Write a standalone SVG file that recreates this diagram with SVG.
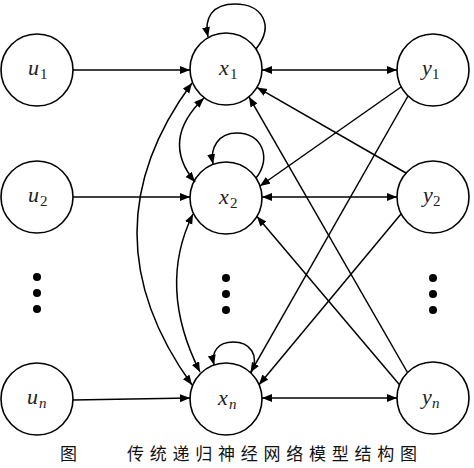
<svg xmlns="http://www.w3.org/2000/svg" width="474" height="468" viewBox="0 0 474 468">
<style>
.node circle{fill:#fff;stroke:#000;stroke-width:1.6}
.v{font-family:"Liberation Serif",serif;font-style:italic;font-size:22px;fill:#222}
.s{font-family:"Liberation Serif",serif;font-size:15px;fill:#222}
.si{font-family:"Liberation Serif",serif;font-style:italic;font-size:15px;fill:#222}
.c path{fill:none;stroke:#000;stroke-width:1.5}
.dot{fill:#000}
.cap{font-family:"Noto Sans CJK SC","Noto Sans",sans-serif;font-size:17px;fill:#111}
</style>
<defs>
<marker id="ah" markerUnits="userSpaceOnUse" markerWidth="11" markerHeight="9" refX="10" refY="4" orient="auto-start-reverse" viewBox="0 0 11 9">
<path d="M0,0 L10,4 L0,8 z" fill="#000"/>
</marker>
</defs>
<rect width="474" height="468" fill="#fff"/>
<g id="u1" class="node"><circle cx="37" cy="70" r="36"/><text class="v" x="28" y="75">u</text><text class="s" x="40" y="79">1</text></g>
<g id="u2" class="node"><circle cx="37" cy="197" r="36"/><text class="v" x="28" y="202">u</text><text class="s" x="40" y="206">2</text></g>
<g id="un" class="node"><circle cx="37" cy="399" r="36"/><text class="v" x="27" y="404">u</text><text class="si" x="39" y="408">n</text></g>
<g id="x1" class="node"><circle cx="226" cy="69" r="36"/><text class="v" x="219" y="75">x</text><text class="s" x="230" y="79">1</text></g>
<g id="x2" class="node"><circle cx="226" cy="198" r="36"/><text class="v" x="219" y="204">x</text><text class="s" x="230" y="208">2</text></g>
<g id="xn" class="node"><circle cx="226" cy="399" r="36"/><text class="v" x="218" y="405">x</text><text class="si" x="229" y="409">n</text></g>
<g id="y1" class="node"><circle cx="433" cy="70" r="36"/><text class="v" x="422" y="75">y</text><text class="s" x="432" y="79">1</text></g>
<g id="y2" class="node"><circle cx="433" cy="197" r="36"/><text class="v" x="423" y="202">y</text><text class="s" x="433" y="206">2</text></g>
<g id="yn" class="node"><circle cx="433" cy="398" r="36"/><text class="v" x="422" y="404">y</text><text class="si" x="432" y="408">n</text></g>
<g id="dots">
<circle class="dot" cx="37" cy="277" r="4"/><circle class="dot" cx="37" cy="293" r="4"/><circle class="dot" cx="37" cy="309" r="4"/>
<circle class="dot" cx="226" cy="278" r="4"/><circle class="dot" cx="226" cy="294" r="4"/><circle class="dot" cx="226" cy="310" r="4"/>
<circle class="dot" cx="433" cy="278" r="4"/><circle class="dot" cx="433" cy="294" r="4"/><circle class="dot" cx="433" cy="310" r="4"/>
</g>
<g id="connectors" class="c">
<path d="M73 70 L190 70" marker-end="url(#ah)"/>
<path d="M73 197 L190 197" marker-end="url(#ah)"/>
<path d="M73 400 L190 398" marker-end="url(#ah)"/>
<path d="M262 70 L397 70" marker-start="url(#ah)" marker-end="url(#ah)"/>
<path d="M262 197 L397 197" marker-start="url(#ah)" marker-end="url(#ah)"/>
<path d="M262 398 L397 398" marker-start="url(#ah)" marker-end="url(#ah)"/>
<path d="M204 98 Q160 140 195 182" marker-start="url(#ah)" marker-end="url(#ah)"/>
<path d="M193 214 Q157 287 200 372" marker-start="url(#ah)" marker-end="url(#ah)"/>
<path d="M192 83 Q82 232 192 385" marker-start="url(#ah)" marker-end="url(#ah)"/>
<path d="M401 87 L260 186" marker-end="url(#ah)"/>
<path d="M408 96 L250.5 372.6" marker-end="url(#ah)"/>
<path d="M406 173 L257 87.4" marker-end="url(#ah)"/>
<path d="M401 214 L259 384.7" marker-end="url(#ah)"/>
<path d="M407.5 372.5 L249 96.8" marker-end="url(#ah)"/>
<path d="M399.5 384.8 L257 216.4" marker-end="url(#ah)"/>
<path d="M256 49 C275 25 262 4 235 4 C212 4 204 18 208 37" marker-end="url(#ah)"/>
<path d="M256 178 C272 158 262 133 237 133 C218 133 210 148 213 164" marker-end="url(#ah)"/>
<path d="M251 373 C260 355 250 342 233 342 C218 342 211 352 214 365" marker-end="url(#ah)"/>
</g>
<g id="caption">
<text class="cap" x="60" y="460">图</text>
<text class="cap" x="127" y="460" textLength="290" lengthAdjust="spacing">传统递归神经网络模型结构图</text>
</g>
</svg>
